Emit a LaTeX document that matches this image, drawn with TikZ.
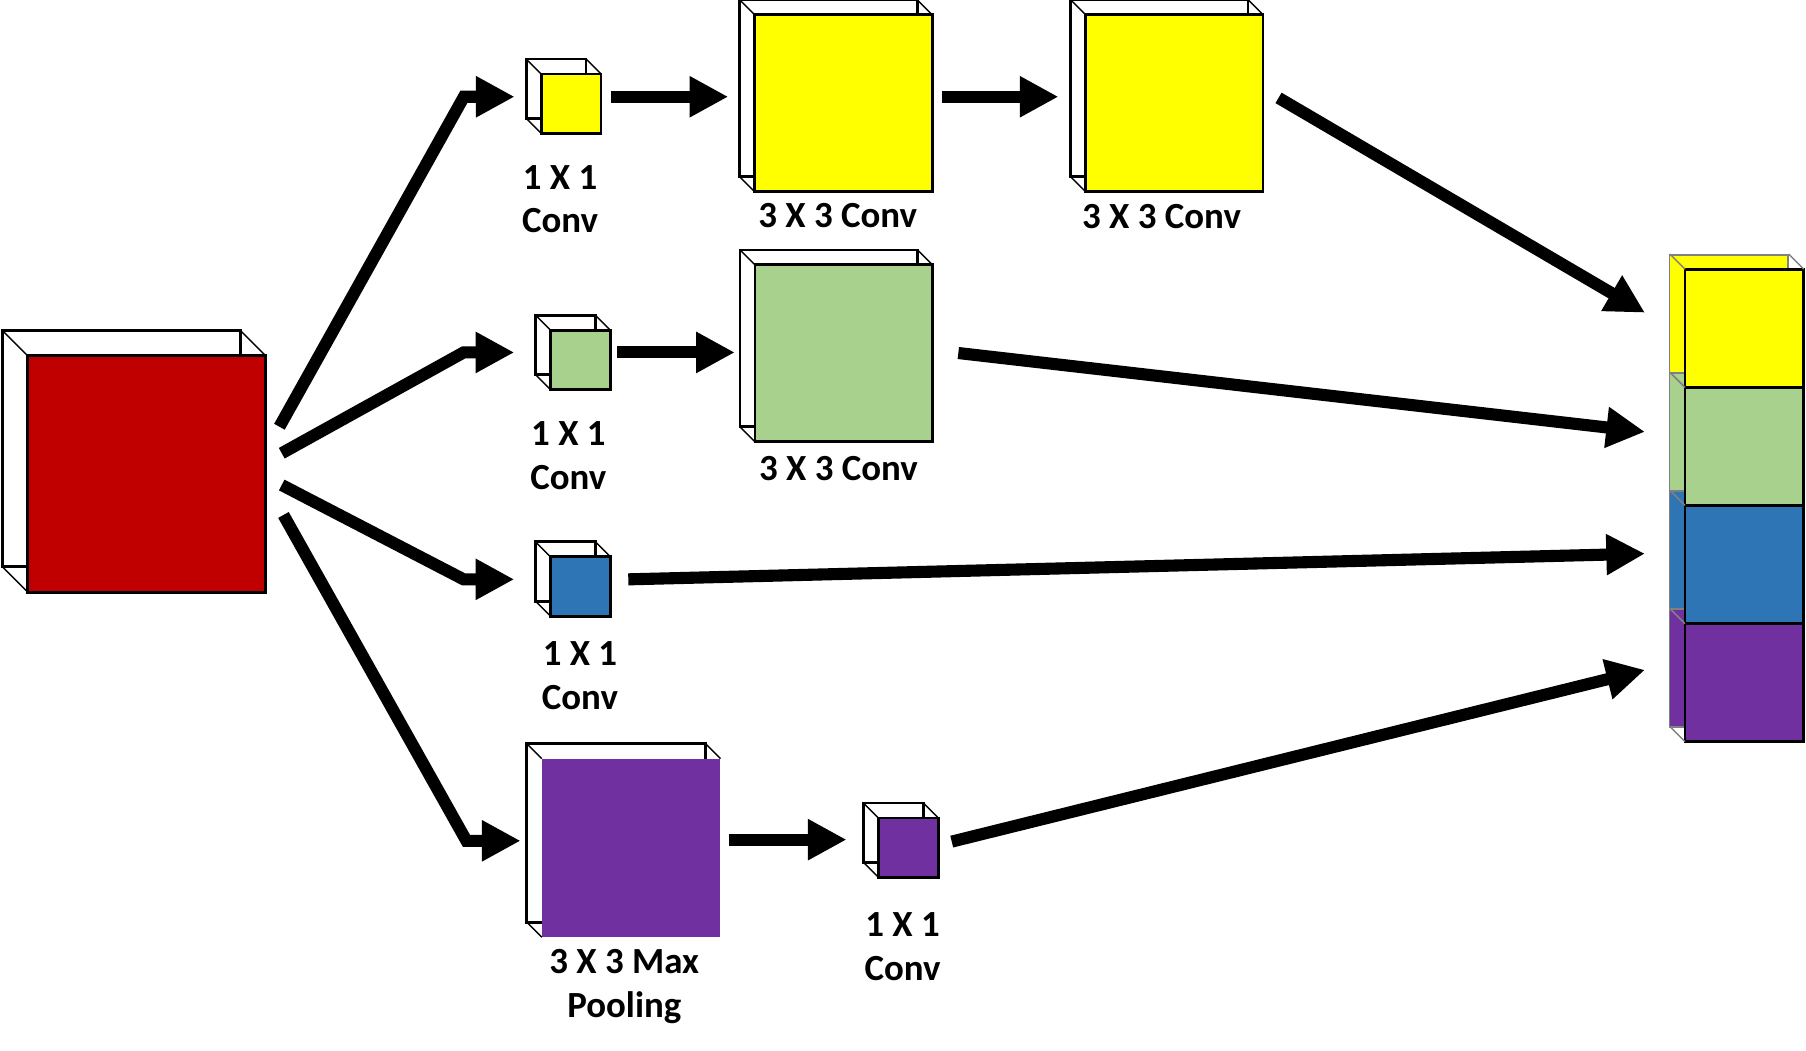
\documentclass[tikz,border=0pt]{standalone}
\usepackage{fontspec}
\setmainfont{Carlito}
\usetikzlibrary{arrows.meta, positioning, shadows}

\definecolor{inred}{RGB}{192,0,0}
\definecolor{cyellow}{RGB}{255,255,0}
\definecolor{cgreen}{RGB}{169,209,142}
\definecolor{cblue}{RGB}{46,117,182}
\definecolor{cpurple}{RGB}{112,48,160}

\begin{document}
\begin{tikzpicture}[
      x=0.01cm, y=-0.01cm,
      face/.style={draw, line width=0.7pt, inner sep=0pt, outer sep=0pt},
      depth lines/.style 2 args={append after command={
          (\tikzlastnode.north west) edge[line width=0.35pt, draw=#2] ++(-#1,#1)
          (\tikzlastnode.north east) edge[line width=0.35pt, draw=#2] ++(-#1,#1)
          (\tikzlastnode.south west) edge[line width=0.35pt, draw=#2] ++(-#1,#1)}},
      cube/.style 2 args={face, fill=#1,
          copy shadow={shadow xshift=-#2, shadow yshift=#2, fill=white, draw=black, line width=0.7pt},
          depth lines={#2}{black}},
      slab/.style={face, fill=#1, minimum width=1.03cm, minimum height=1.025cm,
          copy shadow={shadow xshift=-0.135cm, shadow yshift=0.125cm, fill=#1, draw=gray, line width=0.4pt},
          depth lines={0.13cm}{gray}},
      small/.style={minimum width=0.52cm, minimum height=0.515cm},
      big/.style={minimum width=1.54cm, minimum height=1.535cm},
      lbl/.style={font=\fontsize{9.1}{10.8}\selectfont\bfseries, align=center, inner sep=0pt},
      arr/.style={-{Triangle[length=0.335cm, width=0.335cm]}, line width=0.105cm},
    ]
    \useasboundingbox (0,0) rectangle (1568,912);

    % input volume
    \node[cube={inred}{0.22cm}, minimum width=2.065cm, minimum height=2.05cm] (in) at (127.3,411.5) {};

    % branch 1
    \node[cube={cyellow}{0.13cm}, small] (y1) at (495.8,90) {};
    \node[cube={cyellow}{0.13cm}, big] (y3a) at (732.3,89.7) {};
    \node[cube={cyellow}{0.13cm}, big] (y3b) at (1019.5,89.5) {};

    % branch 2
    \node[cube={cgreen}{0.13cm}, small] (g1) at (504,312.5) {};
    \node[cube={cgreen}{0.13cm}, big] (g3) at (732.5,306.8) {};

    % branch 3
    \node[cube={cblue}{0.13cm}, small] (b1) at (504,509.2) {};

    % branch 4
    \node[cube={cpurple}{0.13cm}, big, draw=none, minimum width=1.55cm, minimum height=1.55cm] (pool) at (548,736.2) {};
    \node[cube={cpurple}{0.13cm}, small] (p1) at (788.6,735.9) {};

    % concatenation
    \node[slab=cpurple] (sp) at (1514.5,592.65) {};
    \node[slab=cblue, above=0pt of sp] (sb) {};
    \node[slab=cgreen, above=0pt of sb] (sg) {};
    \node[slab=cyellow, above=0pt of sg] (sy) {};

    % labels
    \node[lbl, below=0.27cm of y1, xshift=-0.095cm] (y1-lbl) {1 X 1\\Conv};
    \node[lbl, below=0.096cm of y3a, xshift=-0.05cm] (y3a-lbl) {3 X 3 Conv};
    \node[lbl, below=0.10cm of y3b, xshift=-0.11cm] (y3b-lbl) {3 X 3 Conv};
    \node[lbl, below=0.27cm of g1, xshift=-0.105cm] (g1-lbl) {1 X 1\\Conv};
    \node[lbl, below=0.12cm of g3, xshift=-0.045cm] (g3-lbl) {3 X 3 Conv};
    \node[lbl, below=0.213cm of b1, xshift=-0.005cm] (b1-lbl) {1 X 1\\Conv};
    \node[lbl, below=0.102cm of pool, xshift=-0.06cm] (pool-lbl) {3 X 3 Max\\Pooling};
    \node[lbl, below=0.298cm of p1, xshift=-0.05cm] (p1-lbl) {1 X 1\\Conv};

    % split
    \draw[arr] ([shift={(12,-41)}]in.east) -- ([shift={(-67,-6)}]y1.west) -- ([shift={(-23,-6)}]y1.west);
    \draw[arr] ([shift={(14,-18)}]in.east) -- ([shift={(-75.5,-6.5)}]g1.west) -- ([shift={(-31.5,-6.5)}]g1.west);
    \draw[arr] ([shift={(14,9.6)}]in.east) -- ([shift={(-75.5,-6.2)}]b1.west) -- ([shift={(-31.5,-6.2)}]b1.west);
    \draw[arr] ([shift={(15.5,35.6)}]in.east) -- ([shift={(-65.5,-6.2)}]pool.west) -- ([shift={(-18.5,-6.2)}]pool.west);

    % inside the branches
    \draw[arr] ([shift={(8.5,-6)}]y1.east) -- ([shift={(-23,-5.7)}]y3a.west);
    \draw[arr] ([shift={(8.5,-5.7)}]y3a.east) -- ([shift={(-23.5,-5.5)}]y3b.west);
    \draw[arr] ([shift={(6,-6.5)}]g1.east) -- ([shift={(-17.5,-0.8)}]g3.west);
    \draw[arr] ([shift={(7,-7.2)}]pool.east) -- ([shift={(-27.6,-6.9)}]p1.west);

    % to the concatenation
    \draw[arr] ([shift={(13.5,-4.5)}]y3b.east) -- ([shift={(-34.8,-13.5)}]sy.west);
    \draw[arr] ([shift={(22.5,-0.3)}]g3.east) -- ([shift={(-34.8,-12.6)}]sg.west);
    \draw[arr] ([shift={(15.5,-6.2)}]b1.east) -- ([shift={(-34.8,-9.4)}]sb.west);
    \draw[arr] ([shift={(11.7,-5.2)}]p1.east) -- ([shift={(-34.8,-11)}]sp.west);
  \end{tikzpicture}
\end{document}
